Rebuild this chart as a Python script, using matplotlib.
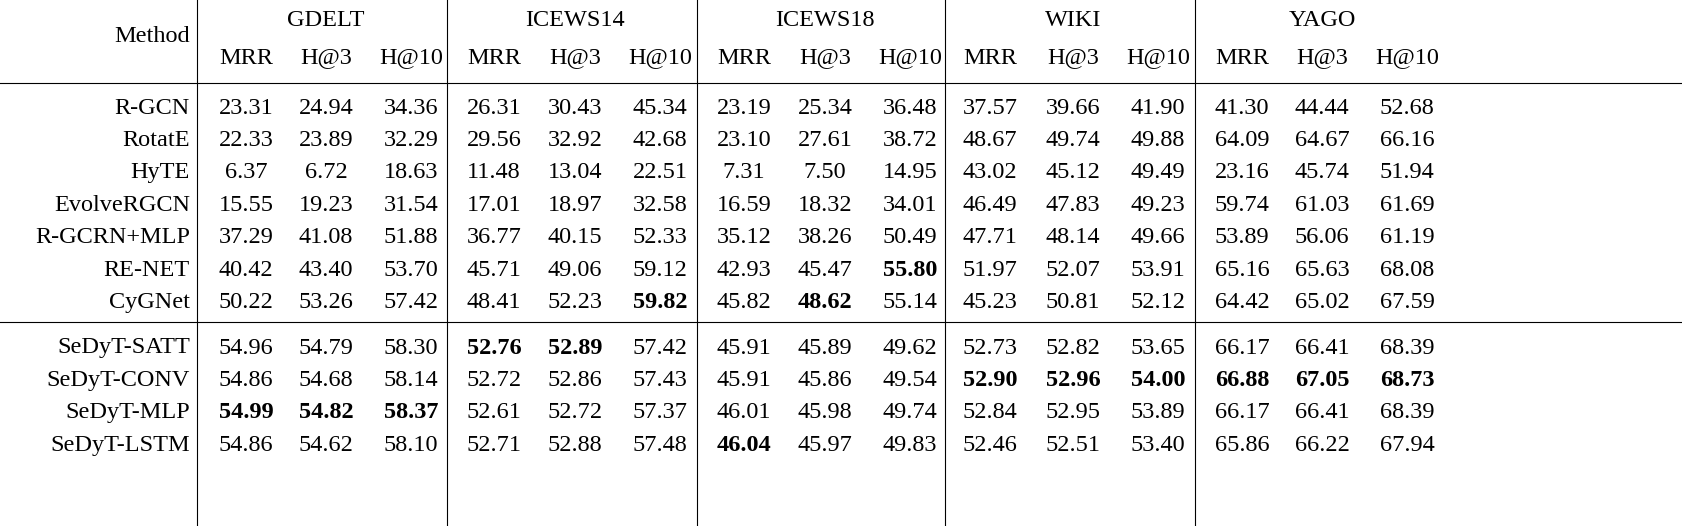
import matplotlib
matplotlib.use("Agg")
import matplotlib.pyplot as plt

datasets = ["GDELT", "ICEWS14", "ICEWS18", "WIKI", "YAGO"]
metrics = ["MRR", "H@3", "H@10"]
methods_base = ["R-GCN", "RotatE", "HyTE", "EvolveRGCN", "R-GCRN+MLP", "RE-NET", "CyGNet"]
methods_ours = ["SeDyT-SATT", "SeDyT-CONV", "SeDyT-MLP", "SeDyT-LSTM"]

values_base = [
    [23.31, 24.94, 34.36, 26.31, 30.43, 45.34, 23.19, 25.34, 36.48, 37.57, 39.66, 41.90, 41.30, 44.44, 52.68],
    [22.33, 23.89, 32.29, 29.56, 32.92, 42.68, 23.10, 27.61, 38.72, 48.67, 49.74, 49.88, 64.09, 64.67, 66.16],
    [6.37, 6.72, 18.63, 11.48, 13.04, 22.51, 7.31, 7.50, 14.95, 43.02, 45.12, 49.49, 23.16, 45.74, 51.94],
    [15.55, 19.23, 31.54, 17.01, 18.97, 32.58, 16.59, 18.32, 34.01, 46.49, 47.83, 49.23, 59.74, 61.03, 61.69],
    [37.29, 41.08, 51.88, 36.77, 40.15, 52.33, 35.12, 38.26, 50.49, 47.71, 48.14, 49.66, 53.89, 56.06, 61.19],
    [40.42, 43.40, 53.70, 45.71, 49.06, 59.12, 42.93, 45.47, 55.80, 51.97, 52.07, 53.91, 65.16, 65.63, 68.08],
    [50.22, 53.26, 57.42, 48.41, 52.23, 59.82, 45.82, 48.62, 55.14, 45.23, 50.81, 52.12, 64.42, 65.02, 67.59],
]
values_ours = [
    [54.96, 54.79, 58.30, 52.76, 52.89, 57.42, 45.91, 45.89, 49.62, 52.73, 52.82, 53.65, 66.17, 66.41, 68.39],
    [54.86, 54.68, 58.14, 52.72, 52.86, 57.43, 45.91, 45.86, 49.54, 52.90, 52.96, 54.00, 66.88, 67.05, 68.73],
    [54.99, 54.82, 58.37, 52.61, 52.72, 57.37, 46.01, 45.98, 49.74, 52.84, 52.95, 53.89, 66.17, 66.41, 68.39],
    [54.86, 54.62, 58.10, 52.71, 52.88, 57.48, 46.04, 45.97, 49.83, 52.46, 52.51, 53.40, 65.86, 66.22, 67.94],
]
# bold cells: (method, column index)
bold = {("RE-NET", 8), ("CyGNet", 5), ("CyGNet", 7),
        ("SeDyT-SATT", 3), ("SeDyT-SATT", 4),
        ("SeDyT-CONV", 9), ("SeDyT-CONV", 10), ("SeDyT-CONV", 11),
        ("SeDyT-CONV", 12), ("SeDyT-CONV", 13), ("SeDyT-CONV", 14),
        ("SeDyT-MLP", 0), ("SeDyT-MLP", 1), ("SeDyT-MLP", 2),
        ("SeDyT-LSTM", 6)}

W, H = 1683, 526
fig = plt.figure(figsize=(W / 100, H / 100), dpi=100)
ax = fig.add_axes([0, 0, 1, 1])
ax.set_xlim(0, W)
ax.set_ylim(H, 0)
ax.axis("off")
font = "Liberation Serif"
fs = 17.5

group_x = [(246, 326, 411), (494, 575, 660), (744, 825, 910), (990, 1073, 1158), (1242, 1322, 1407)]
col_x = [x for g in group_x for x in g]
vlines = [197, 447, 697, 945, 1195]

ax.text(190, 37, "Method", ha="right", va="center", fontsize=fs, family=font)
for name, g in zip(datasets, group_x):
    ax.text(g[1], 20, name, ha="center", va="center", fontsize=fs, family=font)
    for m, x in zip(metrics, g):
        ax.text(x, 58, m, ha="center", va="center", fontsize=fs, family=font)

rows_y_base = [108 + 32.4 * i for i in range(7)]
rows_y_ours = [348 + 32.4 * i for i in range(4)]

def draw_rows(methods, values, ys):
    for meth, vals, y in zip(methods, values, ys):
        ax.text(190, y, meth, ha="right", va="center", fontsize=fs, family=font)
        for j, (v, x) in enumerate(zip(vals, col_x)):
            w = "bold" if (meth, j) in bold else "normal"
            ax.text(x, y, f"{v:.2f}", ha="center", va="center", fontsize=fs,
                    family=font, fontweight=w)

draw_rows(methods_base, values_base, rows_y_base)
draw_rows(methods_ours, values_ours, rows_y_ours)

ax.plot([0, W], [83, 83], color="black", lw=0.8)
ax.plot([0, W], [322, 322], color="black", lw=0.8)
for x in vlines:
    ax.plot([x, x], [0, H], color="black", lw=0.8)

fig.savefig("out.png", dpi=100)
